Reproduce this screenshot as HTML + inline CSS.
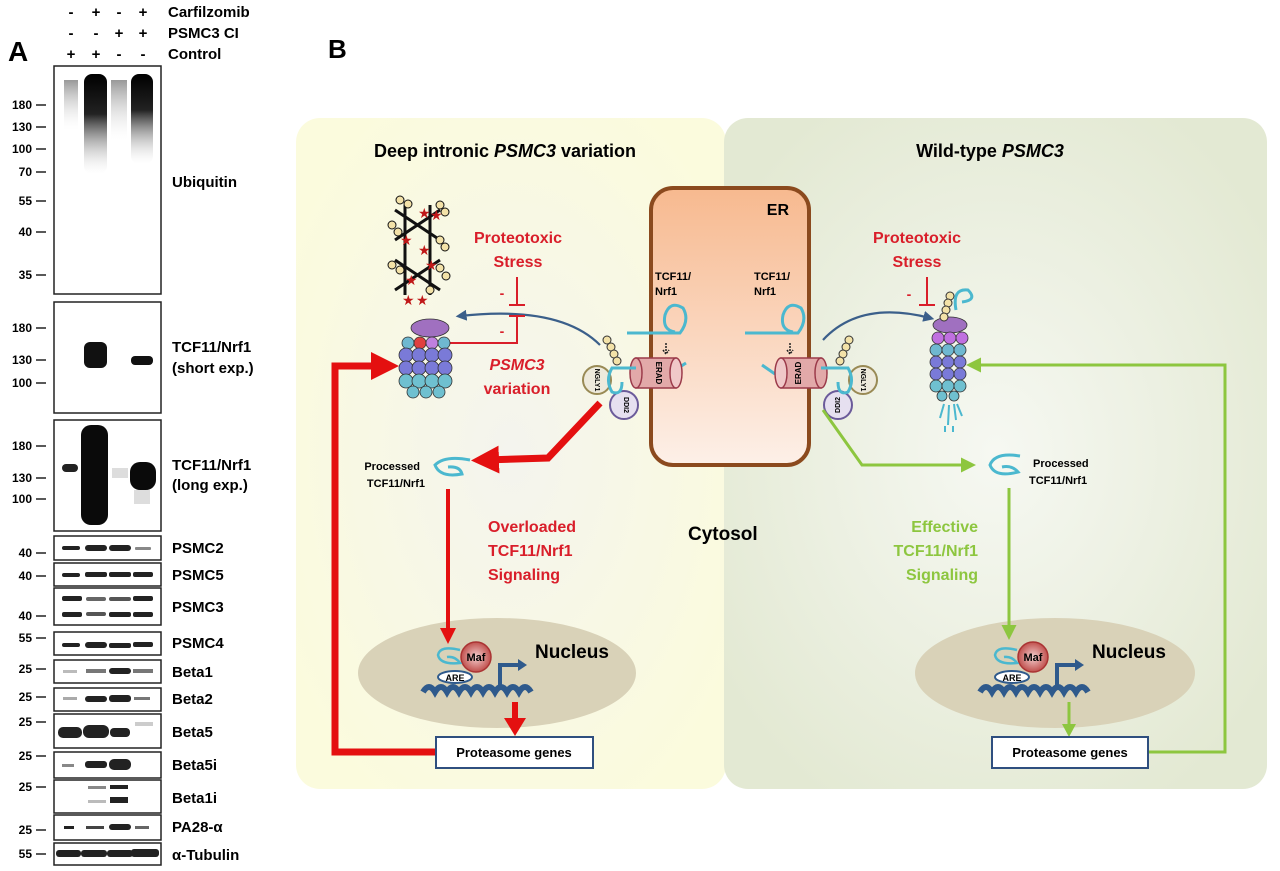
<!DOCTYPE html>
<html><head><meta charset="utf-8"><style>
html,body{margin:0;padding:0;background:#fff;}
svg{display:block;font-family:"Liberation Sans",Arial,sans-serif;}
</style></head><body>
<svg width="1280" height="871" viewBox="0 0 1280 871" xmlns="http://www.w3.org/2000/svg">
<defs>
<linearGradient id="er" x1="0" y1="0" x2="0" y2="1"><stop offset="0" stop-color="#f7b98f"/><stop offset="1" stop-color="#fdf0e8"/></linearGradient>
<radialGradient id="lp" cx="0.5" cy="0.5" r="0.6"><stop offset="0" stop-color="#f4f4ee"/><stop offset="1" stop-color="#fbfbdd"/></radialGradient>
<radialGradient id="rp" cx="0.5" cy="0.5" r="0.6"><stop offset="0" stop-color="#f6f8f2"/><stop offset="1" stop-color="#e3e9d3"/></radialGradient>
<linearGradient id="sm" x1="0" y1="0" x2="0" y2="1"><stop offset="0" stop-color="#000"/><stop offset="0.4" stop-color="#222"/><stop offset="1" stop-color="#ddd" stop-opacity="0"/></linearGradient>
<linearGradient id="smw" x1="0" y1="0" x2="0" y2="1"><stop offset="0" stop-color="#999"/><stop offset="1" stop-color="#eee" stop-opacity="0"/></linearGradient>
<radialGradient id="maf"><stop offset="0" stop-color="#f4d0d0"/><stop offset="1" stop-color="#c0504d"/></radialGradient>
<marker id="ar" markerWidth="4" markerHeight="4" refX="2" refY="2" orient="auto" markerUnits="strokeWidth"><path d="M0,0 L4,2 L0,4 Z" fill="#e41010"/></marker>
<marker id="ag" markerWidth="5" markerHeight="5" refX="3" refY="2.5" orient="auto" markerUnits="strokeWidth"><path d="M0,0 L5,2.5 L0,5 Z" fill="#8dc63f"/></marker>
<marker id="ab" markerWidth="5" markerHeight="5" refX="3" refY="2.5" orient="auto" markerUnits="strokeWidth"><path d="M0,0 L5,2.5 L0,5 Z" fill="#3b5f8a"/></marker>
</defs>

<!-- Panel A -->
<text x="8" y="61" font-size="28" font-weight="bold">A</text>
<g font-size="15" font-weight="bold">
<text x="168" y="17">Carfilzomib</text><text x="168" y="38">PSMC3 CI</text><text x="168" y="59">Control</text>
</g>
<g font-size="15" font-weight="bold" text-anchor="middle">
<text x="71" y="17">-</text><text x="96" y="17">+</text><text x="119" y="17">-</text><text x="143" y="17">+</text>
<text x="71" y="38">-</text><text x="96" y="38">-</text><text x="119" y="38">+</text><text x="143" y="38">+</text>
<text x="71" y="59">+</text><text x="96" y="59">+</text><text x="119" y="59">-</text><text x="143" y="59">-</text>
</g>
<g fill="#fff" stroke="#222" stroke-width="1.5">
<rect x="54" y="66" width="107" height="228"/>
<rect x="54" y="302" width="107" height="111"/>
<rect x="54" y="420" width="107" height="111"/>
<rect x="54" y="536" width="107" height="24"/>
<rect x="54" y="563" width="107" height="23"/>
<rect x="54" y="588" width="107" height="37"/>
<rect x="54" y="632" width="107" height="23"/>
<rect x="54" y="660" width="107" height="23"/>
<rect x="54" y="688" width="107" height="23"/>
<rect x="54" y="714" width="107" height="34"/>
<rect x="54" y="752" width="107" height="26"/>
<rect x="54" y="780" width="107" height="33"/>
<rect x="54" y="815" width="107" height="25"/>
<rect x="54" y="843" width="107" height="22"/>
</g>
<rect x="64" y="80" width="14" height="50" fill="url(#smw)"/>
<rect x="84" y="74" width="23" height="100" rx="8" fill="url(#sm)"/>
<rect x="111" y="80" width="16" height="60" fill="url(#smw)"/>
<rect x="131" y="74" width="22" height="90" rx="8" fill="url(#sm)"/>
<rect x="84" y="342" width="23" height="26" rx="6" fill="#111"/>
<rect x="131" y="356" width="22" height="9" rx="4" fill="#111"/>
<rect x="62" y="464" width="16" height="8" rx="4" fill="#222"/>
<rect x="81" y="425" width="27" height="100" rx="10" fill="#0a0a0a"/>
<rect x="112" y="468" width="16" height="10" fill="#ddd"/>
<rect x="130" y="462" width="26" height="28" rx="10" fill="#0a0a0a"/>
<rect x="134" y="490" width="16" height="14" fill="#ddd"/>
<g fill="#222">
<rect x="62" y="546" width="18" height="4" rx="2"/><rect x="85" y="545" width="22" height="6" rx="3"/><rect x="109" y="545" width="22" height="6" rx="3"/><rect x="135" y="547" width="16" height="3" rx="1" fill="#888"/>
<rect x="62" y="573" width="18" height="4" rx="2"/><rect x="85" y="572" width="22" height="5" rx="2"/><rect x="109" y="572" width="22" height="5" rx="2"/><rect x="133" y="572" width="20" height="5" rx="2"/>
<rect x="62" y="596" width="20" height="5" rx="2"/><rect x="86" y="597" width="20" height="4" rx="2" fill="#666"/><rect x="109" y="597" width="22" height="4" rx="2" fill="#555"/><rect x="133" y="596" width="20" height="5" rx="2"/>
<rect x="62" y="612" width="20" height="5" rx="2"/><rect x="86" y="612" width="20" height="4" rx="2" fill="#555"/><rect x="109" y="612" width="22" height="5" rx="2"/><rect x="133" y="612" width="20" height="5" rx="2"/>
<rect x="62" y="643" width="18" height="4" rx="2"/><rect x="85" y="642" width="22" height="6" rx="3"/><rect x="109" y="643" width="22" height="5" rx="2"/><rect x="133" y="642" width="20" height="5" rx="2"/>
<rect x="63" y="670" width="14" height="3" fill="#bbb"/><rect x="86" y="669" width="20" height="4" fill="#777"/><rect x="109" y="668" width="22" height="6" rx="3"/><rect x="133" y="669" width="20" height="4" fill="#777"/>
<rect x="63" y="697" width="14" height="3" fill="#aaa"/><rect x="85" y="696" width="22" height="6" rx="3"/><rect x="109" y="695" width="22" height="7" rx="3"/><rect x="134" y="697" width="16" height="3" fill="#777"/>
<rect x="58" y="727" width="24" height="11" rx="5"/><rect x="83" y="725" width="26" height="13" rx="6"/><rect x="110" y="728" width="20" height="9" rx="4"/><rect x="135" y="722" width="18" height="4" fill="#ccc"/>
<rect x="62" y="764" width="12" height="3" fill="#888"/><rect x="85" y="761" width="22" height="7" rx="3"/><rect x="109" y="759" width="22" height="11" rx="5"/>
<rect x="88" y="786" width="18" height="3" fill="#888"/><rect x="110" y="785" width="18" height="4"/><rect x="88" y="800" width="18" height="3" fill="#bbb"/><rect x="110" y="797" width="18" height="6"/>
<rect x="64" y="826" width="10" height="3"/><rect x="86" y="826" width="18" height="3" fill="#444"/><rect x="109" y="824" width="22" height="6" rx="3"/><rect x="135" y="826" width="14" height="3" fill="#666"/>
<rect x="56" y="850" width="25" height="7" rx="3"/><rect x="81" y="850" width="26" height="7" rx="3"/><rect x="107" y="850" width="26" height="7" rx="3"/><rect x="131" y="849" width="28" height="8" rx="3"/>
</g>
<g font-size="12" font-weight="bold" text-anchor="end">
<text x="32" y="109">180</text><text x="32" y="131">130</text><text x="32" y="153">100</text><text x="32" y="176">70</text><text x="32" y="205">55</text><text x="32" y="236">40</text><text x="32" y="279">35</text>
<text x="32" y="332">180</text><text x="32" y="364">130</text><text x="32" y="387">100</text>
<text x="32" y="450">180</text><text x="32" y="482">130</text><text x="32" y="503">100</text>
<text x="32" y="557">40</text><text x="32" y="580">40</text><text x="32" y="620">40</text><text x="32" y="642">55</text>
<text x="32" y="673">25</text><text x="32" y="701">25</text><text x="32" y="726">25</text><text x="32" y="760">25</text><text x="32" y="791">25</text><text x="32" y="834">25</text><text x="32" y="858">55</text>
</g>
<g stroke="#222" stroke-width="1.5">
<path d="M36,105h10M36,127h10M36,149h10M36,172h10M36,201h10M36,232h10M36,275h10M36,328h10M36,360h10M36,383h10M36,446h10M36,478h10M36,499h10M36,553h10M36,576h10M36,616h10M36,638h10M36,669h10M36,697h10M36,722h10M36,756h10M36,787h10M36,830h10M36,854h10"/>
</g>
<g font-size="15" font-weight="bold">
<text x="172" y="187">Ubiquitin</text>
<text x="172" y="352">TCF11/Nrf1</text><text x="172" y="373">(short exp.)</text>
<text x="172" y="470">TCF11/Nrf1</text><text x="172" y="490">(long exp.)</text>
<text x="172" y="553">PSMC2</text><text x="172" y="580">PSMC5</text><text x="172" y="612">PSMC3</text><text x="172" y="648">PSMC4</text>
<text x="172" y="677">Beta1</text><text x="172" y="704">Beta2</text><text x="172" y="737">Beta5</text><text x="172" y="770">Beta5i</text>
<text x="172" y="803">Beta1i</text><text x="172" y="832">PA28-α</text><text x="172" y="860">α-Tubulin</text>
</g>

<!-- Panel B -->
<text x="328" y="58" font-size="26" font-weight="bold">B</text>
<rect x="296" y="118" width="430" height="671" rx="24" fill="url(#lp)"/>
<rect x="724" y="118" width="543" height="671" rx="24" fill="url(#rp)"/>
<ellipse cx="497" cy="673" rx="139" ry="55" fill="#d9d2b8"/>
<ellipse cx="1055" cy="673" rx="140" ry="55" fill="#d9d2b8"/>
<text x="505" y="157" font-size="18" font-weight="bold" text-anchor="middle">Deep intronic <tspan font-style="italic">PSMC3</tspan> variation</text>
<text x="990" y="157" font-size="18" font-weight="bold" text-anchor="middle">Wild-type <tspan font-style="italic">PSMC3</tspan></text>

<rect x="651" y="188" width="158" height="277" rx="22" fill="url(#er)" stroke="#8b4a1e" stroke-width="4"/>
<text x="789" y="215" font-size="16" font-weight="bold" text-anchor="end">ER</text>
<g font-size="11" font-weight="bold"><text x="655" y="280">TCF11/</text><text x="655" y="295">Nrf1</text><text x="754" y="280">TCF11/</text><text x="754" y="295">Nrf1</text></g>

<g fill="none" stroke="#4bb8cf" stroke-width="3">
<path d="M627,333 L680,333 Q690,320 683,308 Q670,300 665,315 Q662,330 675,332"/>
<path d="M745,333 L798,333 Q808,320 801,308 Q788,300 783,315 Q780,330 793,332"/>
<path d="M672,372 L686,363"/><path d="M762,365 L775,374"/>
</g>
<path d="M666,343v10M663,350l3,4 3,-4" stroke="#222" stroke-width="1.5" fill="none" stroke-dasharray="2 1"/>
<path d="M790,343v10M787,350l3,4 3,-4" stroke="#222" stroke-width="1.5" fill="none" stroke-dasharray="2 1"/>
<g stroke="#9b3a4a" stroke-width="1.5" fill="#e2a9a9">
<rect x="636" y="358" width="40" height="30"/><ellipse cx="636" cy="373" rx="6" ry="15"/><ellipse cx="676" cy="373" rx="6" ry="15" fill="#f0c8c8"/>
<rect x="781" y="358" width="40" height="30"/><ellipse cx="821" cy="373" rx="6" ry="15"/><ellipse cx="781" cy="373" rx="6" ry="15" fill="#f0c8c8"/>
</g>
<text x="656" y="373" font-size="8" font-weight="bold" transform="rotate(90 656 373)" text-anchor="middle">ERAD</text>
<text x="801" y="373" font-size="8" font-weight="bold" transform="rotate(-90 801 373)" text-anchor="middle">ERAD</text>
<g stroke-width="2">
<circle cx="597" cy="380" r="14" fill="#eeeadc" stroke="#998a55"/><circle cx="624" cy="405" r="14" fill="#e6e0f0" stroke="#6b5b9a"/>
<circle cx="863" cy="380" r="14" fill="#eeeadc" stroke="#998a55"/><circle cx="838" cy="405" r="14" fill="#e6e0f0" stroke="#6b5b9a"/>
</g>
<g font-size="7" font-weight="bold" text-anchor="middle">
<text x="597" y="382" transform="rotate(90 597 380)">NGLY1</text><text x="626" y="407" transform="rotate(90 626 405)">DDI2</text>
<text x="863" y="382" transform="rotate(90 863 380)">NGLY1</text><text x="838" y="407" transform="rotate(-90 838 405)">DDI2</text>
</g>
<g fill="none" stroke="#4bb8cf" stroke-width="3">
<path d="M636,368 L612,368 Q605,380 612,392 Q622,396 622,382"/>
<path d="M821,368 L848,368 Q855,380 848,392 Q838,396 838,382"/>
</g>
<g fill="#f3e2a8" stroke="#333" stroke-width="1"><circle cx="607" cy="340" r="4"/><circle cx="611" cy="347" r="4"/><circle cx="614" cy="354" r="4"/><circle cx="617" cy="361" r="4"/>
<circle cx="849" cy="340" r="4"/><circle cx="846" cy="347" r="4"/><circle cx="843" cy="354" r="4"/><circle cx="840" cy="361" r="4"/></g>

<path d="M600,345 Q560,305 460,316" fill="none" stroke="#3b5f8a" stroke-width="2.2" marker-end="url(#ab)"/>
<path d="M823,340 Q860,300 930,318" fill="none" stroke="#3b5f8a" stroke-width="2.2" marker-end="url(#ab)"/>

<g fill="#d91e2a" font-size="16" font-weight="bold" text-anchor="middle">
<text x="518" y="243">Proteotoxic</text><text x="518" y="267">Stress</text>
<text x="917" y="243">Proteotoxic</text><text x="917" y="267">Stress</text>
<text x="517" y="370" font-style="italic">PSMC3</text><text x="517" y="394">variation</text>
<text x="502" y="298" font-size="14">-</text><text x="502" y="336" font-size="14">-</text><text x="909" y="299" font-size="14">-</text>
</g>
<g stroke="#d91e2a" stroke-width="2" fill="none">
<path d="M517,277v27M509,305h16M509,316h16M517,316v27H420"/>
<path d="M927,277v27M919,305h16"/>
</g>

<g stroke="#333" stroke-width="0.8" transform="translate(0,8)">
<ellipse cx="430" cy="320" rx="19" ry="9" fill="#a070c0"/>
<g fill="#6fb8d0"><circle cx="408" cy="335" r="6"/><circle cx="420" cy="335" r="6" fill="#e04040"/><circle cx="432" cy="335" r="6" fill="#c080e0"/><circle cx="444" cy="335" r="6"/></g>
<g fill="#7a7ad8"><circle cx="406" cy="347" r="7"/><circle cx="419" cy="347" r="7"/><circle cx="432" cy="347" r="7"/><circle cx="445" cy="347" r="7"/>
<circle cx="406" cy="360" r="7"/><circle cx="419" cy="360" r="7"/><circle cx="432" cy="360" r="7"/><circle cx="445" cy="360" r="7"/></g>
<g fill="#6fc0d0"><circle cx="406" cy="373" r="7"/><circle cx="419" cy="373" r="7"/><circle cx="432" cy="373" r="7"/><circle cx="445" cy="373" r="7"/><circle cx="413" cy="384" r="6"/><circle cx="426" cy="384" r="6"/><circle cx="439" cy="384" r="6"/></g>
</g>
<g stroke="#111" stroke-width="1" fill="#f3e2a8">
<path d="M395,210 l45,30 M440,210 l-45,30 M395,260 l45,30 M440,260 l-45,30 M405,205 v90 M430,205 v90" stroke-width="3"/>
<circle cx="400" cy="200" r="4"/><circle cx="408" cy="204" r="4"/><circle cx="440" cy="205" r="4"/><circle cx="445" cy="212" r="4"/><circle cx="392" cy="225" r="4"/><circle cx="398" cy="232" r="4"/><circle cx="440" cy="240" r="4"/><circle cx="445" cy="247" r="4"/><circle cx="392" cy="265" r="4"/><circle cx="400" cy="270" r="4"/><circle cx="440" cy="268" r="4"/><circle cx="446" cy="276" r="4"/><circle cx="430" cy="290" r="4"/>
</g>
<g fill="#c01818" font-size="14"><text x="418" y="218">★</text><text x="430" y="220">★</text><text x="400" y="245">★</text><text x="418" y="255">★</text><text x="425" y="270">★</text><text x="405" y="285">★</text><text x="402" y="305">★</text><text x="416" y="305">★</text></g>

<g stroke="#333" stroke-width="0.8">
<ellipse cx="950" cy="325" rx="17" ry="8" fill="#a070c0"/>
<g fill="#c070e0"><circle cx="938" cy="338" r="6"/><circle cx="950" cy="338" r="6"/><circle cx="962" cy="338" r="6"/></g>
<g fill="#6fb8d0"><circle cx="936" cy="350" r="6"/><circle cx="948" cy="350" r="6"/><circle cx="960" cy="350" r="6"/></g>
<g fill="#7a7ad8"><circle cx="936" cy="362" r="6"/><circle cx="948" cy="362" r="6"/><circle cx="960" cy="362" r="6"/><circle cx="936" cy="374" r="6"/><circle cx="948" cy="374" r="6"/><circle cx="960" cy="374" r="6"/></g>
<g fill="#6fc0d0"><circle cx="936" cy="386" r="6"/><circle cx="948" cy="386" r="6"/><circle cx="960" cy="386" r="6"/><circle cx="942" cy="396" r="5"/><circle cx="954" cy="396" r="5"/></g>
</g>
<g fill="#f3e2a8" stroke="#333" stroke-width="1"><circle cx="950" cy="296" r="4"/><circle cx="948" cy="303" r="4"/><circle cx="946" cy="310" r="4"/><circle cx="944" cy="317" r="4"/></g>
<path d="M956,310 Q952,288 968,290 Q978,300 962,302" fill="none" stroke="#4bb8cf" stroke-width="3"/>
<path d="M940,418l4,-14M948,425l1,-20M956,420l-2,-16M962,416l-5,-12M945,432v-6M953,432v-6" stroke="#4bb8cf" stroke-width="2"/>

<!-- red arrows -->
<path d="M600,403 L548,458 L485,460" fill="none" stroke="#e41010" stroke-width="7" marker-end="url(#ar)"/>
<path d="M448,489 V636" fill="none" stroke="#e41010" stroke-width="4" marker-end="url(#ar)"/>
<path d="M515,702 V722" fill="none" stroke="#e41010" stroke-width="6"/>
<polygon points="504,718 526,718 515,736" fill="#e41010"/>
<path d="M436,752 H335 V366 H385" fill="none" stroke="#e41010" stroke-width="7" marker-end="url(#ar)"/>
<!-- green arrows -->
<path d="M823,410 L862,465 L970,465" fill="none" stroke="#8dc63f" stroke-width="3" marker-end="url(#ag)"/>
<path d="M1009,488 V634" fill="none" stroke="#8dc63f" stroke-width="3" marker-end="url(#ag)"/>
<path d="M1069,702 V726" fill="none" stroke="#8dc63f" stroke-width="3"/>
<polygon points="1062,724 1076,724 1069,737" fill="#8dc63f"/>
<path d="M1148,752 H1225 V365 H972" fill="none" stroke="#8dc63f" stroke-width="3" marker-end="url(#ag)"/>

<g font-size="11" font-weight="bold">
<text x="420" y="470" text-anchor="end">Processed</text><text x="425" y="487" text-anchor="end">TCF11/Nrf1</text>
<text x="1033" y="467">Processed</text><text x="1029" y="484">TCF11/Nrf1</text>
</g>
<path d="M470,460 Q445,455 435,465 Q440,478 462,474 Q460,466 448,467" fill="none" stroke="#4bb8cf" stroke-width="3"/>
<path d="M1020,456 Q995,452 990,465 Q995,478 1018,472 Q1012,465 1002,467" fill="none" stroke="#4bb8cf" stroke-width="3"/>

<g fill="#d91e2a" font-size="16" font-weight="bold"><text x="488" y="532">Overloaded</text><text x="488" y="556">TCF11/Nrf1</text><text x="488" y="580">Signaling</text></g>
<g fill="#8dc63f" font-size="16" font-weight="bold" text-anchor="end"><text x="978" y="532">Effective</text><text x="978" y="556">TCF11/Nrf1</text><text x="978" y="580">Signaling</text></g>
<text x="688" y="540" font-size="19" font-weight="bold">Cytosol</text>

<text x="535" y="658" font-size="19" font-weight="bold">Nucleus</text>
<text x="1092" y="658" font-size="19" font-weight="bold">Nucleus</text>
<g id="gene">
<path d="M423,692 q6,-10 12,0 q6,-10 12,0 q6,-10 12,0 q6,-10 12,0 q6,-10 12,0 q6,-10 12,0 q6,-10 12,0 q6,-10 12,0 q6,-10 12,0" fill="none" stroke="#2f5a8c" stroke-width="6"/>
<path d="M500,688 V665 H520" fill="none" stroke="#2f5a8c" stroke-width="4"/><path d="M518,659 l9,6 -9,6z" fill="#2f5a8c"/>
<ellipse cx="455" cy="677" rx="17" ry="6" fill="#fff" stroke="#2f5a8c" stroke-width="2"/>
<text x="455" y="681" font-size="9" font-weight="bold" text-anchor="middle">ARE</text>
<circle cx="476" cy="657" r="15" fill="url(#maf)" stroke="#a33" stroke-width="1.5"/>
<text x="476" y="661" font-size="11" font-weight="bold" text-anchor="middle">Maf</text>
<path d="M460,650 Q440,645 438,655 Q440,665 460,663 Q455,656 447,657" fill="none" stroke="#4bb8cf" stroke-width="2.5"/>
</g>
<use href="#gene" x="557" y="0"/>

<rect x="436" y="737" width="157" height="31" fill="#fff" stroke="#2f4f7f" stroke-width="2"/>
<text x="514" y="757" font-size="13" font-weight="bold" text-anchor="middle">Proteasome genes</text>
<rect x="992" y="737" width="156" height="31" fill="#fff" stroke="#2f4f7f" stroke-width="2"/>
<text x="1070" y="757" font-size="13" font-weight="bold" text-anchor="middle">Proteasome genes</text>
</svg>
</body></html>
